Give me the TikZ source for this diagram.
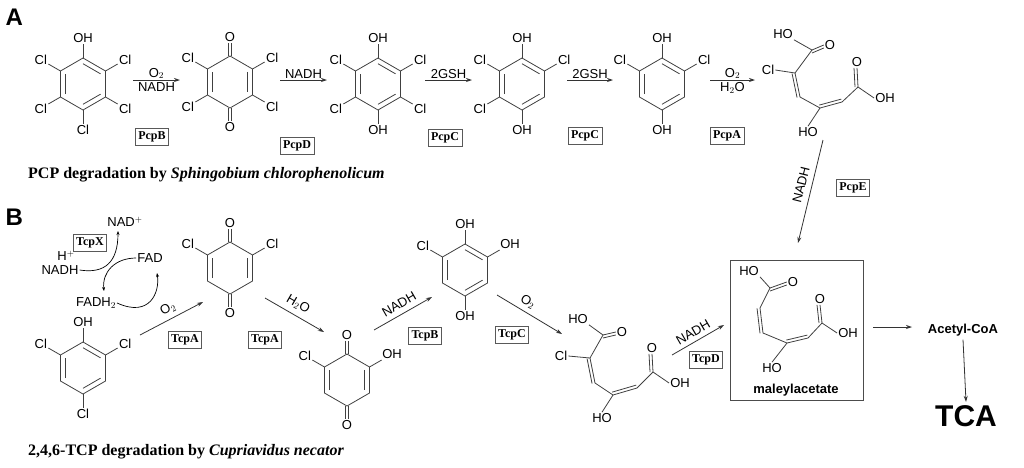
\documentclass[tikz,border=0pt]{standalone}
\usepackage{fontspec}
\setmainfont{Liberation Serif}
\newfontfamily\chem{Liberation Sans}
\usetikzlibrary{calc,arrows.meta}
\tikzset{
 bond/.style={line width=0.8pt,draw=black!75},
 atom/.style={font=\chem\fontsize{13}{13}\selectfont,inner sep=1pt},
 enz/.style={draw=black!65,line width=0.7pt,font=\fontsize{12}{12}\selectfont\bfseries,inner sep=3pt},
 rxn/.style={line width=0.8pt,draw=black!80,-{Stealth[length=6pt,width=4pt]}},
 lab/.style={font=\chem\fontsize{13}{13}\selectfont,inner sep=1pt},
 captxt/.style={font=\fontsize{16}{16}\selectfont\bfseries,anchor=west,inner sep=0pt},
}
\newcommand\hexring[3]{%
 \coordinate (#1) at (#2,-#3);
 \foreach \i/\a in {1/90,2/30,3/-30,4/-90,5/-150,6/150}{\coordinate (#1-\i) at ($(#1)+(\a:26)$);}
 \draw[bond] (#1-1)--(#1-2)--(#1-3)--(#1-4)--(#1-5)--(#1-6)--cycle;}
\newcommand\inb[3]{\draw[bond] ($(#1)!0.78!(#1-#2)$)--($(#1)!0.78!(#1-#3)$);}
\newcommand\sub[4]{\pgfmathtruncatemacro\anc{mod(#3+540,360)}%
 \draw[bond] (#1-#2) -- ++(#3:14) node[atom,anchor=\anc] {#4};}
\newcommand\dsub[4]{\pgfmathtruncatemacro\anc{mod(#3+540,360)}%
 \draw[bond] ($(#1-#2)+(#3+90:1.6)$) -- ++(#3:13); \draw[bond] ($(#1-#2)+(#3-90:1.6)$) -- ++(#3:13);
 \path (#1-#2) -- ++(#3:13) node[atom,anchor=\anc] {#4};}
\begin{document}
\begin{tikzpicture}[x=1pt,y=1pt]
\useasboundingbox (0,0) rectangle (1024,-467);
\node[font=\chem\bfseries\fontsize{24}{24}\selectfont,anchor=west] (lA) at (2,-17) {A};
\node[font=\chem\bfseries\fontsize{24}{24}\selectfont,anchor=west] (lB) at (2,-217) {B};
% ---------- Panel A ----------
\hexring{a1}{83}{84}
\inb{a1}{1}{2}\inb{a1}{3}{4}\inb{a1}{5}{6}
\sub{a1}{1}{90}{OH}\sub{a1}{6}{150}{Cl}\sub{a1}{2}{30}{Cl}\sub{a1}{5}{210}{Cl}\sub{a1}{3}{-30}{Cl}\sub{a1}{4}{-90}{Cl}
\coordinate (s1) at (133,-80); \coordinate (e1) at (180,-80);
\draw[rxn] (s1)--(e1);
\node[lab,above] (t1) at ($(s1)!0.5!(e1)$) {O$_2$};
\node[lab,below=1pt] (t1b) at ($(s1)!0.5!(e1)$) {NADH};
\node[enz] (PcpB) at (152,-137) {PcpB};

\hexring{a2}{230}{82}
\inb{a2}{2}{3}\inb{a2}{5}{6}
\dsub{a2}{1}{90}{O}\dsub{a2}{4}{-90}{O}\sub{a2}{6}{150}{Cl}\sub{a2}{2}{30}{Cl}\sub{a2}{5}{210}{Cl}\sub{a2}{3}{-30}{Cl}
\coordinate (s2) at (280,-80); \coordinate (e2) at (327,-80);
\draw[rxn] (s2)--(e2);
\node[lab,above] (t2) at ($(s2)!0.5!(e2)$) {NADH};
\node[enz] (PcpD) at (297,-146) {PcpD};

\hexring{a3}{378}{84}
\inb{a3}{1}{2}\inb{a3}{3}{4}\inb{a3}{5}{6}
\sub{a3}{1}{90}{OH}\sub{a3}{4}{-90}{OH}\sub{a3}{6}{150}{Cl}\sub{a3}{2}{30}{Cl}\sub{a3}{5}{210}{Cl}\sub{a3}{3}{-30}{Cl}
\coordinate (s3) at (425,-80); \coordinate (e3) at (472,-80);
\draw[rxn] (s3)--(e3);
\node[lab,above] (t3) at ($(s3)!0.5!(e3)$) {2GSH};
\node[enz] (PcpC1) at (445,-138) {PcpC};

\hexring{a4}{522}{84}
\inb{a4}{1}{2}\inb{a4}{3}{4}\inb{a4}{5}{6}
\sub{a4}{1}{90}{OH}\sub{a4}{4}{-90}{OH}\sub{a4}{6}{150}{Cl}\sub{a4}{2}{30}{Cl}\sub{a4}{5}{210}{Cl}
\coordinate (s4) at (567,-80); \coordinate (e4) at (613,-80);
\draw[rxn] (s4)--(e4);
\node[lab,above] (t4) at ($(s4)!0.5!(e4)$) {2GSH};
\node[enz] (PcpC2) at (585,-136) {PcpC};

\hexring{a5}{662}{84}
\inb{a5}{1}{2}\inb{a5}{3}{4}\inb{a5}{5}{6}
\sub{a5}{1}{90}{OH}\sub{a5}{4}{-90}{OH}\sub{a5}{6}{150}{Cl}\sub{a5}{2}{30}{Cl}
\coordinate (s5) at (710,-80); \coordinate (e5) at (755,-80);
\draw[rxn] (s5)--(e5);
\node[lab,above] (t5) at ($(s5)!0.5!(e5)$) {O$_2$};
\node[lab,below=1pt] (t5b) at ($(s5)!0.5!(e5)$) {H$_2$O};
\node[enz] (PcpA) at (727,-136) {PcpA};

% chain A
\coordinate (c1) at (812,-50); \coordinate (c2) at (795,-73); \coordinate (c3) at (800,-97);
\coordinate (c4) at (820,-108); \coordinate (c5) at (842,-102); \coordinate (c6) at (858,-87);
\node[atom] (hoA) at (783,-34) {HO}; \node[atom] (oA) at (830,-45) {O};
\node[atom] (clA) at (768,-70) {Cl}; \node[atom] (ho2A) at (808,-132) {HO};
\node[atom] (o2A) at (857,-62) {O}; \node[atom] (ohA) at (885,-98) {OH};
\draw[bond] (hoA.south east)--(c1)--(c2)--(c3)--(c4)--(c5)--(c6)--(ohA.west);
\draw[bond] (c1)--(oA.west); \draw[bond] ($(c1)+(0,-3)$)--($(oA.west)+(0,-3)$);
\draw[bond] (clA.east)--(c2); \draw[bond] (c4)--(ho2A.north);
\draw[bond] (c6)--(o2A.south); \draw[bond] ($(c6)+(-3,0)$)--($(o2A.south)+(-3,0)$);
\draw[bond] ($(c2)!3pt!-90:(c3)$)--($(c3)!3pt!90:(c2)$);
\draw[bond] ($(c4)!3pt!90:(c5)$)--($(c5)!3pt!-90:(c4)$);
\node[captxt] (capA) at (28,-175) {PCP degradation by \textit{Sphingobium chlorophenolicum}};

% PcpE arrow
\coordinate (sE) at (823,-140); \coordinate (eE) at (798,-243);
\draw[rxn] (sE)--(eE);
\node[lab,rotate=76] (tE) at (801,-185) {NADH};
\node[enz] (PcpE) at (853,-188) {PcpE};

% ---------- Panel B ----------
\node[enz] (TcpX) at (90,-243) {TcpX};
\node[lab] (nadp) at (125,-222) {NAD$^+$};
\node[lab] (hp) at (66,-256) {H$^+$};
\node[lab] (nadh) at (60,-270) {NADH};
\node[lab] (fad) at (150,-258) {FAD};
\node[lab] (fadh) at (96,-303) {FADH$_2$};
\draw[line width=0.7pt,-{Stealth[length=4pt]}] (nadh.east) .. controls (105,-274) and (118,-262) .. (118,-231);
\draw[line width=0.7pt,-{Stealth[length=4pt]}] (fad.west) .. controls (115,-258) and (102,-272) .. (104,-291);
\draw[line width=0.7pt,-{Stealth[length=4pt]}] (fadh.east) .. controls (150,-318) and (160,-292) .. (157,-273);

\hexring{b1}{83}{368}
\inb{b1}{1}{2}\inb{b1}{3}{4}\inb{b1}{5}{6}
\sub{b1}{1}{90}{OH}\sub{b1}{6}{150}{Cl}\sub{b1}{2}{30}{Cl}\sub{b1}{4}{-90}{Cl}
\coordinate (sb1) at (140,-335); \coordinate (eb1) at (203,-302);
\draw[rxn] (sb1)--(eb1);
\node[lab,rotate=28] (tb1) at (168,-309) {O$_2$};
\node[enz] (TcpA1) at (185,-340) {TcpA};

\hexring{b2}{230}{268}
\inb{b2}{2}{3}\inb{b2}{5}{6}
\dsub{b2}{1}{90}{O}\dsub{b2}{4}{-90}{O}\sub{b2}{6}{150}{Cl}\sub{b2}{2}{30}{Cl}
\node[enz] (TcpA2) at (265,-340) {TcpA};
\coordinate (sb2) at (265,-298); \coordinate (eb2) at (324,-332);
\draw[rxn] (sb2)--(eb2);
\node[lab,rotate=-30] (tb2) at (298,-304) {H$_2$O};

\hexring{b3}{347}{380}
\inb{b3}{2}{3}\inb{b3}{5}{6}
\dsub{b3}{1}{90}{O}\dsub{b3}{4}{-90}{O}\sub{b3}{6}{150}{Cl}\sub{b3}{2}{30}{OH}
\coordinate (sb3) at (374,-330); \coordinate (eb3) at (432,-297);
\draw[rxn] (sb3)--(eb3);
\node[lab,rotate=30] (tb3) at (399,-304) {NADH};
\node[enz] (TcpB) at (425,-336) {TcpB};

\hexring{b4}{465}{270}
\inb{b4}{1}{2}\inb{b4}{3}{4}\inb{b4}{5}{6}
\sub{b4}{1}{90}{OH}\sub{b4}{4}{-90}{OH}\sub{b4}{6}{150}{Cl}\sub{b4}{2}{30}{OH}
\coordinate (sb4) at (497,-295); \coordinate (eb4) at (562,-334);
\draw[rxn] (sb4)--(eb4);
\node[lab,rotate=-30] (tb4) at (528,-302) {O$_2$};
\node[enz] (TcpC) at (512,-335) {TcpC};

% chain B
\coordinate (d1) at (603,-335); \coordinate (d2) at (590,-358); \coordinate (d3) at (595,-383);
\coordinate (d4) at (613,-395); \coordinate (d5) at (637,-388); \coordinate (d6) at (653,-372);
\node[atom] (hoB) at (578,-319) {HO}; \node[atom] (oB) at (622,-332) {O};
\node[atom] (clB) at (561,-356) {Cl}; \node[atom] (ho2B) at (602,-418) {HO};
\node[atom] (o2B) at (652,-348) {O}; \node[atom] (ohB) at (680,-383) {OH};
\draw[bond] (hoB.south east)--(d1)--(d2)--(d3)--(d4)--(d5)--(d6)--(ohB.west);
\draw[bond] (d1)--(oB.west); \draw[bond] ($(d1)+(0,-3)$)--($(oB.west)+(0,-3)$);
\draw[bond] (clB.east)--(d2); \draw[bond] (d4)--(ho2B.north);
\draw[bond] (d6)--(o2B.south); \draw[bond] ($(d6)+(-3,0)$)--($(o2B.south)+(-3,0)$);
\draw[bond] ($(d2)!3pt!-90:(d3)$)--($(d3)!3pt!90:(d2)$);
\draw[bond] ($(d4)!3pt!90:(d5)$)--($(d5)!3pt!-90:(d4)$);

\coordinate (sb5) at (672,-355); \coordinate (eb5) at (724,-325);
\draw[rxn] (sb5)--(eb5);
\node[lab,rotate=30] (tb5) at (693,-332) {NADH};
\node[enz] (TcpD) at (706,-360) {TcpD};

% maleylacetate
\node[draw=black!70,line width=0.8pt,minimum width=133pt,minimum height=140pt] (MA) at (796.5,-330) {};
\coordinate (m1) at (770,-288); \coordinate (m2) at (760,-308); \coordinate (m3) at (763,-333);
\coordinate (m4) at (787,-343); \coordinate (m5) at (808,-338); \coordinate (m6) at (822,-323);
\node[atom] (hoM) at (749,-271) {HO}; \node[atom] (oM) at (793,-282) {O};
\node[atom] (ho2M) at (772,-368) {HO};
\node[atom] (o2M) at (820,-299) {O}; \node[atom] (ohM) at (848,-333) {OH};
\draw[bond] (hoM.south east)--(m1)--(m2)--(m3)--(m4)--(m5)--(m6)--(ohM.west);
\draw[bond] (m1)--(oM.west); \draw[bond] ($(m1)+(0,-3)$)--($(oM.west)+(0,-3)$);
\draw[bond] (m4)--(ho2M.north);
\draw[bond] (m6)--(o2M.south); \draw[bond] ($(m6)+(-3,0)$)--($(o2M.south)+(-3,0)$);
\draw[bond] ($(m2)!3pt!-90:(m3)$)--($(m3)!3pt!90:(m2)$);
\draw[bond] ($(m4)!3pt!90:(m5)$)--($(m5)!3pt!-90:(m4)$);
\node[font=\chem\bfseries\fontsize{13}{13}\selectfont] (mal) at (796,-390) {maleylacetate};

\node[font=\chem\bfseries\fontsize{13}{13}\selectfont] (acoa) at (963,-330) {Acetyl-CoA};
\node[font=\chem\bfseries\fontsize{30}{30}\selectfont] (tca) at (966,-416) {TCA};
\coordinate (ma1) at (873,-327); \coordinate (ma2) at (912,-327);
\draw[rxn] (ma1) -- (ma2);
\draw[rxn] (acoa.south) -- (tca.north);
\node[captxt] (capB) at (28,-452) {2,4,6-TCP degradation by \textit{Cupriavidus necator}};
\end{tikzpicture}
\end{document}
